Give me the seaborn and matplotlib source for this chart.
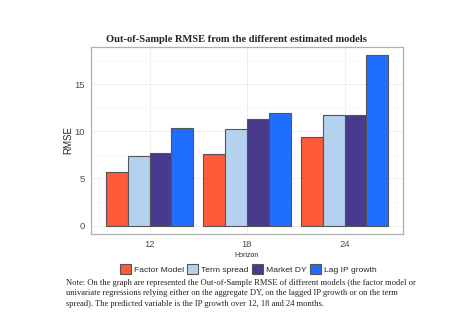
import matplotlib
matplotlib.use("Agg")
import matplotlib.pyplot as plt
import seaborn as sns
import pandas as pd

horizons = ["12", "18", "24"]
models = ["Factor Model", "Term spread", "Market DY", "Lag IP growth"]
factor_model = [5.7, 7.6, 9.35]
term_spread = [7.4, 10.25, 11.75]
market_dy = [7.7, 11.35, 11.7]
lag_ip = [10.35, 11.95, 18.05]
yticks = [0, 5, 10, 15]

colors = ["#FF5A3A", "#B4D2F0", "#483A8C", "#1F6FFF"]

rows = []
for name, vals in zip(models, [factor_model, term_spread, market_dy, lag_ip]):
    for h, v in zip(horizons, vals):
        rows.append({"Horizon": h, "Model": name, "RMSE": v})
df = pd.DataFrame(rows)

sns.set_style("white")
plt.rcParams["font.family"] = ["Liberation Sans", "DejaVu Sans"]

fig = plt.figure(figsize=(4.74, 3.24), dpi=100)
ax = fig.add_axes([91/474, 1-234/324, 312/474, 187/324])

sns.barplot(data=df, x="Horizon", y="RMSE", hue="Model", order=horizons,
            hue_order=models, palette=colors, width=0.9, gap=0,
            edgecolor="#555555", linewidth=0.8, ax=ax, legend=True, saturation=1)

ax.set_xlim(-0.6, 2.6)
ax.set_ylim(-0.9, 18.95)
ax.set_yticks(yticks)
ax.set_yticks([2.5, 7.5, 12.5, 17.5], minor=True)
ax.grid(True, which="major", color="#EBEBEB", linewidth=0.6)
ax.grid(True, which="minor", axis="y", color="#F4F4F4", linewidth=0.4)
ax.set_axisbelow(True)
for s in ax.spines.values():
    s.set_color("#B0B0B0")
    s.set_linewidth(0.9)
ax.tick_params(axis="both", which="major", length=2.5, width=0.5, color="#666666",
               labelsize=6.8, labelcolor="#4D4D4D", pad=2)
ax.tick_params(axis="y", which="minor", length=0)
ax.set_xlabel("Horizon", fontsize=5, labelpad=2)
ax.set_ylabel("RMSE", fontsize=7, labelpad=1)

handles, labels = ax.get_legend_handles_labels()
ax.get_legend().remove()
fig.legend(handles, labels, loc="center", bbox_to_anchor=(248/474, 1-269/324), ncol=4,
           frameon=False, fontsize=6.1, handlelength=1.3, handleheight=1.3,
           handletextpad=0.35, columnspacing=0.4)

fig.text(236/474, 1-39/324, "Out-of-Sample RMSE from the different estimated models",
         ha="center", va="center", fontsize=7.6, fontweight="bold",
         family=["Liberation Serif", "DejaVu Serif"])

note = ("Note: On the graph are represented the Out-of-Sample RMSE of different models (the factor model or\n"
        "univariate regressions relying either on the aggregate DY, on the lagged IP growth or on the term\n"
        "spread). The predicted variable is the IP growth over 12, 18 and 24 months.")
fig.text(66/474, 1-279/324, note, ha="left", va="top", fontsize=6.1,
         family=["Liberation Serif", "DejaVu Serif"], linespacing=1.4, color="#222222")

fig.savefig("out.png", dpi=100)
